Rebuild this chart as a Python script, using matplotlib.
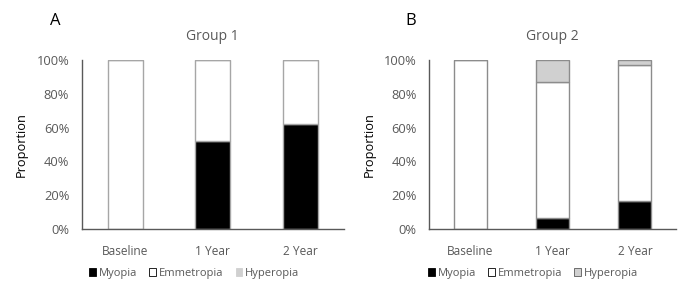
import matplotlib
matplotlib.use("Agg")
import matplotlib.pyplot as plt
from matplotlib.patches import Patch
from matplotlib.ticker import FuncFormatter

plt.rcParams['font.family'] = ['Open Sans', 'DejaVu Sans']

categories = ["Baseline", "1 Year", "2 Year"]
series = ["Myopia", "Emmetropia", "Hyperopia"]

g1_myopia = [0, 52, 62]
g1_emmetropia = [100, 48, 38]
g1_hyperopia = [0, 0, 0]

g2_myopia = [0, 6.7, 16.7]
g2_emmetropia = [100, 80, 80]
g2_hyperopia = [0, 13.3, 3.3]

panel_letters = ["A", "B"]
titles = ["Group 1", "Group 2"]

txt = "#595959"
fills = ["#000000", "#ffffff", "#d0d0d0"]

fig = plt.figure(figsize=(6.85, 3.02), dpi=100)
axA = fig.add_axes([0.1193, 0.2407, 0.3825, 0.5616])
axB = fig.add_axes([0.6267, 0.2407, 0.3602, 0.5616])

panels = [
    (axA, [g1_myopia, g1_emmetropia, g1_hyperopia], "#a6a6a6", False),
    (axB, [g2_myopia, g2_emmetropia, g2_hyperopia], "#8c8c8c", True),
]

x = list(range(len(categories)))
for i, (ax, data, edge, hyp_edge) in enumerate(panels):
    bottom = [0] * len(categories)
    for vals, fc in zip(data, fills):
        ax.bar(x, vals, bottom=bottom, width=0.4, color=fc, edgecolor=edge,
               linewidth=1.0, zorder=2)
        bottom = [b + v for b, v in zip(bottom, vals)]
    ax.set_xlim(-0.5, 2.5)
    ax.set_ylim(0, 100)
    ax.set_yticks([0, 20, 40, 60, 80, 100])
    ax.yaxis.set_major_formatter(FuncFormatter(lambda v, p: f"{int(v)}%"))
    ax.set_xticks(x)
    ax.set_xticklabels(categories)
    ax.tick_params(axis='x', length=0, labelsize=8.6, colors=txt, pad=11)
    ax.tick_params(axis='y', length=0, labelsize=9.3, colors=txt, pad=9)
    for s in ["top", "right"]:
        ax.spines[s].set_visible(False)
    ax.spines["left"].set_color("#595959")
    ax.spines["bottom"].set_color("#595959")
    ax.spines["left"].set_linewidth(1.0)
    ax.spines["bottom"].set_linewidth(1.0)
    ax.set_ylabel("Proportion", fontsize=9.2, color="#000000", labelpad=6)
    ax.set_title(titles[i], fontsize=10, color=txt, pad=14)
    ax.text(-0.1 if i == 0 else -0.075, 1.23, panel_letters[i], transform=ax.transAxes,
            fontsize=12, color="#000000", ha="center", va="center")
    handles = [
        Patch(facecolor=fills[0], edgecolor=fills[0], linewidth=0.6),
        Patch(facecolor=fills[1], edgecolor="#000000", linewidth=0.6),
        Patch(facecolor=fills[2], edgecolor="#595959" if hyp_edge else fills[2], linewidth=0.6),
    ]
    leg = ax.legend(handles, series, loc="center",
                    bbox_to_anchor=(0.43 if i == 0 else 0.42, -0.26),
                    ncol=3, frameon=False, fontsize=8, handlelength=0.6,
                    handleheight=0.6, handletextpad=0.25, columnspacing=1.1)
    for t in leg.get_texts():
        t.set_color(txt)

fig.savefig("out.png", dpi=100)
